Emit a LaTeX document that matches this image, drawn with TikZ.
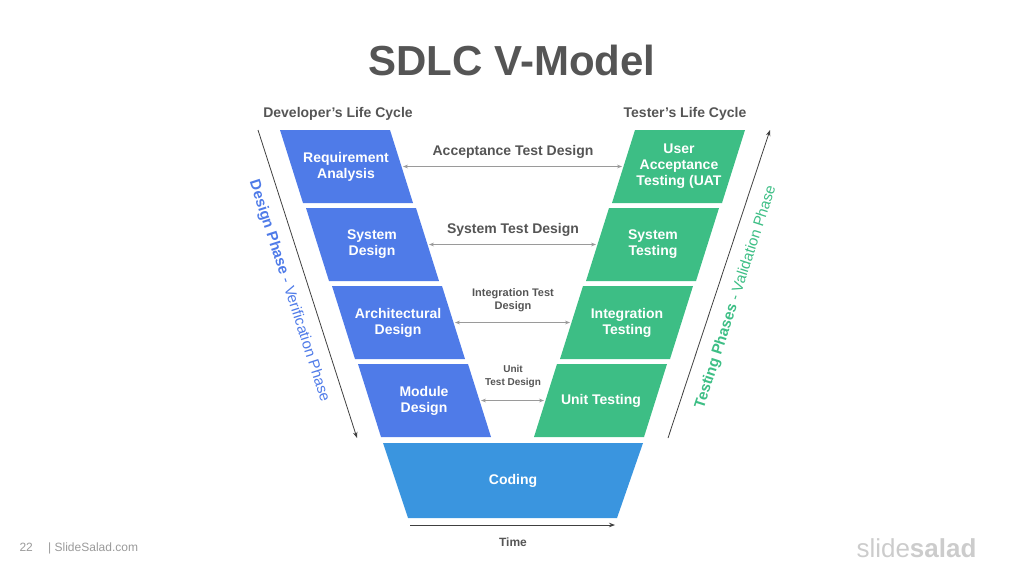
\documentclass[tikz,border=0pt]{standalone}
\usepackage{fontspec}
\setmainfont{Liberation Sans}
\usetikzlibrary{arrows.meta}
\definecolor{vblue}{HTML}{4F7BE8}
\definecolor{vgreen}{HTML}{3DBE85}
\definecolor{vcode}{HTML}{3A95DF}
\definecolor{dgray}{HTML}{555555}
\definecolor{agray}{HTML}{9A9A9A}
\begin{document}
\begin{tikzpicture}[x=1pt,y=-1pt,
  boxtxt/.style={text=white,font=\fontsize{14}{16}\selectfont\bfseries,align=center},
  lbl/.style={text=dgray,font=\fontsize{14}{16}\selectfont\bfseries,align=center},
  slbl/.style={text=dgray,font=\fontsize{11}{13}\selectfont\bfseries,align=center},
  link/.style={agray,line width=0.8pt,{Stealth[length=5pt]}-{Stealth[length=5pt]}},
  side/.style={black!75,line width=0.8pt,-{Stealth[length=6pt]}}]
\useasboundingbox (0,0) rectangle (1024,576);
\node[text=dgray,font=\fontsize{42}{46}\selectfont\bfseries] (title) at (512,60) {SDLC V-Model};
\node[lbl] (dev) at (338,114) {Developer’s Life Cycle};
\node[lbl] (tes) at (685,114) {Tester’s Life Cycle};
% left and right stages
\foreach \k/\lt/\rt in {0/{Requirement\\Analysis}/{User\\Acceptance\\Testing (UAT},1/{System\\Design}/{System\\Testing},2/{Architectural\\Design}/{Integration\\Testing},3/{Module\\Design}/{Unit Testing}}{
  \pgfmathsetmacro{\yt}{130+78*\k}
  \pgfmathsetmacro{\yb}{203+78*\k}
  \pgfmathsetmacro{\xl}{280+26*\k}
  \fill[vblue] (\xl,\yt) -- (\xl+110,\yt) -- (\xl+133,\yb) -- (\xl+23,\yb) -- cycle;
  \fill[vgreen] (1025-\xl,\yt) -- (1025-\xl-110,\yt) -- (1025-\xl-133,\yb) -- (1025-\xl-23,\yb) -- cycle;
  \node[boxtxt] (L\k) at (\xl+66,\yt+36.5) {\lt};
  \node[boxtxt] (R\k) at (1025-\xl-66,\yt+36.5) {\rt};
  \coordinate (La\k) at (\xl+123,\yt+36.5);
  \coordinate (Ra\k) at (1025-\xl-123,\yt+36.5);
  \draw[link] (La\k) -- (Ra\k);
}
\fill[vcode] (383,443) -- (643,443) -- (617,518) -- (408,518) -- cycle;
\node[boxtxt] (code) at (513,481) {Coding};
\node[lbl] (a0) at (513,152) {Acceptance Test Design};
\node[lbl] (a1) at (513,230) {System Test Design};
\node[slbl] (a2) at (513,300) {Integration Test\\Design};
\node[slbl,font=\fontsize{10}{13}\selectfont\bfseries] (a3) at (513,376) {Unit\\Test Design};
% side arrows
\coordinate (ls) at (258,130); \coordinate (le) at (357,438);
\draw[side] (ls) -- (le);
\coordinate (rs) at (668,438); \coordinate (re) at (770,130);
\draw[side] (rs) -- (re);
\node[rotate=-72,font=\fontsize{15}{17}\selectfont] (lp) at (289,291) {\textcolor{vblue}{\textbf{Design Phase}} \textcolor{vblue}{- Verification Phase}};
\node[rotate=72,font=\fontsize{15}{17}\selectfont] (rp) at (736,297) {\textcolor{vgreen}{\textbf{Testing Phases}} \textcolor{vgreen}{- Validation Phase}};
% time
\coordinate (ts) at (410,525); \coordinate (te) at (615,525);
\draw[side] (ts) -- (te);
\node[text=dgray,font=\fontsize{12}{14}\selectfont\bfseries] (time) at (513,542) {Time};
% footer
\node[text=agray,font=\fontsize{12}{14}\selectfont,anchor=west] (foot) at (16,548) {22 \quad| SlideSalad.com};
\node[text=black!20,font=\fontsize{26}{28}\selectfont,anchor=east] (logo) at (980,548) {slide\textbf{salad}};
\end{tikzpicture}
\end{document}
